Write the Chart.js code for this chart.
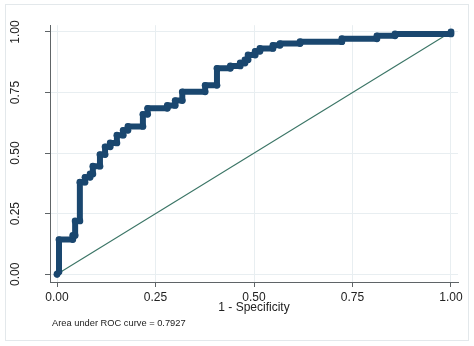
<!DOCTYPE html>
<html>
<head>
    <title>ROC curve</title>
    <script src="https://cdn.jsdelivr.net/npm/chart.js@4/dist/chart.umd.min.js"></script>
    <style>
        body { margin: 0; background: #fff; }
        #wrap { width: 474px; height: 346px; }
    </style>
</head>
<body>
    <div id="wrap"><canvas id="rocChart" width="474" height="346"></canvas></div>

    <script>
        // ROC curve: 1 - specificity (x) and sensitivity (y)
        var falsePosRate = [0, 0.005, 0.005, 0.04, 0.04, 0.046, 0.046, 0.058, 0.058, 0.071,
            0.071, 0.084, 0.084, 0.091, 0.091, 0.109, 0.109, 0.122, 0.122, 0.135,
            0.135, 0.152, 0.152, 0.168, 0.168, 0.18, 0.18, 0.218, 0.218, 0.23,
            0.23, 0.28, 0.28, 0.3, 0.3, 0.318, 0.318, 0.376, 0.376, 0.406,
            0.406, 0.44, 0.44, 0.465, 0.465, 0.477, 0.477, 0.485, 0.485, 0.503,
            0.503, 0.515, 0.515, 0.548, 0.548, 0.566, 0.566, 0.617, 0.617, 0.723,
            0.723, 0.812, 0.812, 0.858, 0.858, 1, 1];
        var sensitivity = [0, 0.01, 0.143, 0.143, 0.16, 0.16, 0.22, 0.22, 0.38, 0.38,
            0.40, 0.40, 0.414, 0.414, 0.446, 0.446, 0.494, 0.494, 0.526, 0.526,
            0.542, 0.542, 0.574, 0.574, 0.594, 0.594, 0.61, 0.61, 0.66, 0.66,
            0.685, 0.685, 0.697, 0.697, 0.717, 0.717, 0.753, 0.753, 0.78, 0.78,
            0.85, 0.85, 0.86, 0.86, 0.872, 0.872, 0.885, 0.885, 0.905, 0.905,
            0.92, 0.92, 0.932, 0.932, 0.945, 0.945, 0.952, 0.952, 0.96, 0.96,
            0.972, 0.972, 0.984, 0.984, 0.992, 0.992, 1];
        var diagX = [0, 1];
        var diagY = [0, 1];

        var tickValues = [0, 0.25, 0.5, 0.75, 1];
        var tickLabels = ['0.00', '0.25', '0.50', '0.75', '1.00'];
        var xTitle = '1 - Specificity';
        var aucNote = 'Area under ROC curve = 0.7927';

        var navy = '#1a476f';
        var axisGrey = '#5f6467';
        var gridGrey = '#e8eef1';
        var fontFamily = '"Liberation Sans", Arial, Helvetica, sans-serif';

        function toPoints(xs, ys) {
            return xs.map(function (x, i) { return { x: x, y: ys[i] }; });
        }

        function fixedTicks(scale) {
            scale.ticks = tickValues.map(function (v) { return { value: v }; });
        }

        function tickText(value) {
            var i = tickValues.indexOf(value);
            return i >= 0 ? tickLabels[i] : '';
        }

        // outer frame + note under the axis
        var extras = {
            id: 'extras',
            beforeDraw: function (chart) {
                var ctx = chart.ctx;
                ctx.save();
                ctx.fillStyle = '#fff';
                ctx.fillRect(0, 0, chart.width, chart.height);
                ctx.strokeStyle = '#e3e8eb';
                ctx.lineWidth = 1;
                ctx.strokeRect(5.5, 4.5, chart.width - 11, chart.height - 10);
                ctx.restore();
            },
            afterDraw: function (chart) {
                var ctx = chart.ctx;
                var area = chart.chartArea;
                ctx.save();
                ctx.font = '9.3px ' + fontFamily;
                ctx.fillStyle = '#222';
                ctx.textAlign = 'left';
                ctx.textBaseline = 'middle';
                ctx.fillText(aucNote, area.left + 2, area.bottom + 41);
                ctx.restore();
            }
        };

        var ctx = document.getElementById('rocChart').getContext('2d');
        var chart = new Chart(ctx, {
            type: 'scatter',
            data: {
                datasets: [{
                    label: 'ROC',
                    data: toPoints(falsePosRate, sensitivity),
                    showLine: true,
                    borderColor: navy,
                    backgroundColor: navy,
                    borderWidth: 6,
                    borderJoinStyle: 'round',
                    borderCapStyle: 'round',
                    pointRadius: 3.4,
                    pointBorderWidth: 0,
                    pointBackgroundColor: navy
                }, {
                    label: 'Reference',
                    data: toPoints(diagX, diagY),
                    showLine: true,
                    borderColor: '#3b7566',
                    borderWidth: 1.1,
                    pointRadius: 0
                }]
            },
            options: {
                responsive: false,
                animation: false,
                layout: { padding: { left: 0, right: 16, top: 16, bottom: 0 } },
                plugins: {
                    legend: { display: false },
                    tooltip: { enabled: false }
                },
                scales: {
                    x: {
                        type: 'linear',
                        position: 'bottom',
                        min: -0.0178,
                        max: 1.0178,
                        afterBuildTicks: fixedTicks,
                        afterFit: function (scale) { scale.height = 64; },
                        grid: { color: gridGrey, tickColor: axisGrey, tickLength: 5 },
                        border: { color: axisGrey, width: 1 },
                        ticks: {
                            padding: 3,
                            color: '#222',
                            maxRotation: 0,
                            font: { family: fontFamily, size: 12 },
                            callback: tickText
                        },
                        title: {
                            display: true,
                            text: xTitle,
                            color: '#222',
                            font: { family: fontFamily, size: 12 },
                            padding: { top: 0, bottom: 31 }
                        }
                    },
                    y: {
                        type: 'linear',
                        min: -0.032,
                        max: 1.028,
                        afterBuildTicks: fixedTicks,
                        afterFit: function (scale) { scale.width = 50; },
                        grid: { color: gridGrey, tickColor: axisGrey, tickLength: 5 },
                        border: { color: axisGrey, width: 1 },
                        ticks: {
                            padding: 18,
                            color: '#222',
                            minRotation: 90,
                            maxRotation: 90,
                            crossAlign: 'center',
                            font: { family: fontFamily, size: 12 },
                            callback: tickText
                        }
                    }
                }
            },
            plugins: [extras]
        });
    </script>
</body>
</html>
